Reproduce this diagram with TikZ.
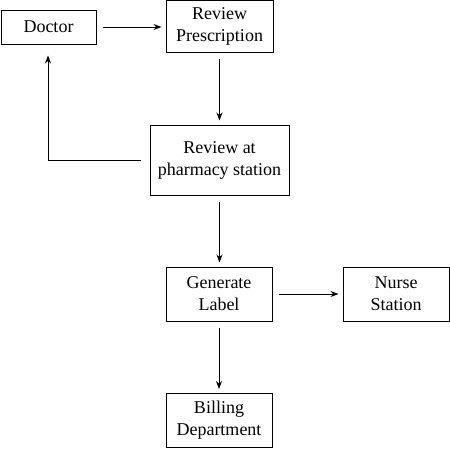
\documentclass[tikz,border=0pt]{standalone}
\usepackage{fontspec}
\setmainfont{Liberation Serif}
\usetikzlibrary{arrows.meta}
\begin{document}
\begin{tikzpicture}[x=1pt,y=-1pt,
  box/.style={draw,line width=1pt,inner sep=0pt,align=center,font=\fontsize{18}{22}\selectfont},
  arr/.style={line width=1pt,-{Stealth[length=8pt,width=6pt]},shorten <=6pt,shorten >=4pt}]
\useasboundingbox (0,0) rectangle (450,448);
\node[box,minimum width=95pt,minimum height=34pt] (doc) at (48.5,27) {Doctor};
\node[box,minimum width=107pt,minimum height=52pt] (rp) at (219.5,26.5) {Review\\Prescription};
\node[box,minimum width=139pt,minimum height=70pt] (rap) at (219.5,160) {Review at\\pharmacy station};
\node[box,minimum width=106pt,minimum height=54pt] (gl) at (219,294) {Generate\\Label};
\node[box,minimum width=106pt,minimum height=54pt] (ns) at (396,294) {Nurse\\Station};
\node[box,minimum width=106pt,minimum height=54pt] (bd) at (219,420.5) {Billing\\Department};
\coordinate (corner) at (48,160);
\draw[arr] (doc.east) -- (doc.east -| rp.west);
\draw[arr] (rp.south) -- (rp.south |- rap.north);
\draw[arr] (rap.south) -- (rap.south |- gl.north);
\draw[arr] (gl.east) -- (ns.west);
\draw[arr] (gl.south) -- (bd.north);
\draw[arr,shorten <=9pt,shorten >=11pt] (rap.west) -- (corner) -- (corner |- doc.south);
\end{tikzpicture}
\end{document}
